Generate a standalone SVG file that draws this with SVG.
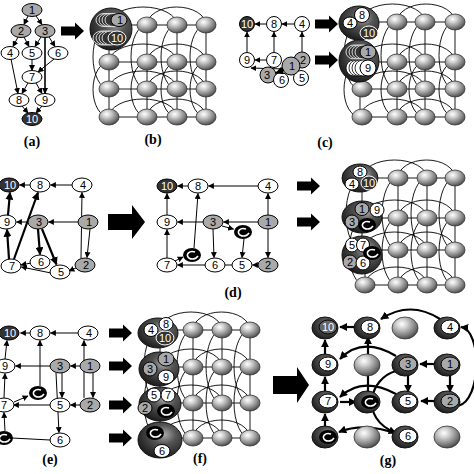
<svg xmlns="http://www.w3.org/2000/svg" width="474" height="474" viewBox="0 0 474 474">
<defs>
<radialGradient id="sg" cx="0.38" cy="0.32" r="0.72"><stop offset="0" stop-color="#fff"/><stop offset="0.3" stop-color="#cfcfcf"/><stop offset="0.75" stop-color="#7a7a7a"/><stop offset="1" stop-color="#444"/></radialGradient>
<radialGradient id="dg" cx="0.6" cy="0.35" r="0.75"><stop offset="0" stop-color="#aaa"/><stop offset="0.35" stop-color="#555"/><stop offset="1" stop-color="#111"/></radialGradient>
<marker id="a" viewBox="0 0 10 10" refX="9" refY="5" markerWidth="6" markerHeight="6" markerUnits="userSpaceOnUse" orient="auto"><path d="M0,0 L10,5 L0,10 z"/></marker>
<marker id="A" viewBox="0 0 10 10" refX="9" refY="5" markerWidth="8" markerHeight="8" markerUnits="userSpaceOnUse" orient="auto"><path d="M0,0 L10,5 L0,10 z"/></marker>
<g id="ph"><ellipse rx="9" ry="7" fill="#000"/><path d="M3,-3 C-3,-5 -7,0 -3,3 C0,5 4,4 6,1" fill="none" stroke="#fff" stroke-width="1.6"/></g>
<path id="ba" d="M0,-4.5 H14 V-8.5 L23,0 L14,8.5 V4.5 H0 Z" fill="#000"/>
</defs>
<style>
.w{fill:#fff;stroke:#000;stroke-width:1}
.g{fill:#a9a9a9;stroke:#000;stroke-width:1}
.d{fill:#333;stroke:#000;stroke-width:1}
.m{fill:#666;stroke:#000;stroke-width:1}
.s{fill:url(#sg);stroke:#333;stroke-width:0.8}
.big{fill:url(#dg);stroke:#111;stroke-width:1}
.k{fill:#333;stroke:#fff;stroke-width:0.8}
text{font-family:"Liberation Sans",Arial,sans-serif;font-size:11px;text-anchor:middle;fill:#000}
.tw{fill:#fff}
.lab{font-family:"Liberation Serif","Times New Roman",serif;font-size:14px;font-weight:bold}
.e{fill:none;stroke:#000;stroke-width:1;marker-end:url(#a)}
.E{fill:none;stroke:#000;stroke-width:2.2;marker-end:url(#A)}
.l{fill:none;stroke:#000;stroke-width:1}
.grid{fill:none;stroke:#000;stroke-width:0.9}
</style>
<rect width="474" height="474" fill="#fff"/>

<!-- ================= (a) ================= -->
<g id="a-edges">
<path class="e" d="M28,16 L24,24.5"/><path class="e" d="M36,16 L42,24.5"/>
<path class="e" d="M18,37 L13,46.5"/><path class="e" d="M24,37 L29,46.5"/>
<path class="e" d="M41,37 L35,46.5"/><path class="e" d="M49,37 L55,46.5"/>
<path class="e" d="M11,59 L18,93.5"/><path class="e" d="M32,59.5 L32,70.5"/>
<path class="e" d="M54,59 L38,72"/><path class="e" d="M28,83 L22,93.5"/>
<path class="e" d="M36,83 L42,93.5"/><path class="e" d="M45,37.5 L45,93.5" style="stroke-width:1.6"/>
<path class="e" d="M22,106 L28,113"/><path class="e" d="M42,106 L36,113"/>
</g>
<g id="a-n1"><ellipse class="g" cx="32" cy="10" rx="10" ry="6.5"/><text x="32" y="14">1</text></g>
<g id="a-n2"><ellipse class="g" cx="21" cy="31" rx="10" ry="6.5"/><text x="21" y="35">2</text></g>
<g id="a-n3"><ellipse class="g" cx="45" cy="31" rx="10" ry="6.5"/><text x="45" y="35">3</text></g>
<g id="a-n4"><ellipse class="w" cx="10" cy="53" rx="9" ry="6.5"/><text x="10" y="57">4</text></g>
<g id="a-n5"><ellipse class="w" cx="32" cy="53" rx="10" ry="6.5"/><text x="32" y="57">5</text></g>
<g id="a-n6"><ellipse class="w" cx="58" cy="53" rx="10" ry="6.5"/><text x="58" y="57">6</text></g>
<g id="a-n7"><ellipse class="w" cx="32" cy="77" rx="10" ry="6.5"/><text x="32" y="81">7</text></g>
<g id="a-n8"><ellipse class="w" cx="19" cy="100" rx="10" ry="6.5"/><text x="19" y="104">8</text></g>
<g id="a-n9"><ellipse class="w" cx="45" cy="100" rx="10" ry="6.5"/><text x="45" y="104">9</text></g>
<g id="a-n10"><ellipse class="d" cx="32" cy="119" rx="10" ry="6.5"/><text class="tw" x="32" y="123">10</text></g>
<text class="lab" x="32" y="146">(a)</text>
<use href="#ba" x="61" y="31"/>

<!-- ================= (b) ================= -->
<g id="b-links" class="grid">
<path d="M109,25H206 M109,62H206 M109,89H206 M109,117H206 M109,25V117 M147,25V117 M177,25V117 M206,25V117"/>
<path d="M109,25 A34,18 0 0 1 177,25 M147,25 A29.5,18 0 0 1 206,25 M109,62 A34,18 0 0 1 177,62 M147,62 A29.5,18 0 0 1 206,62 M109,89 A34,18 0 0 1 177,89 M147,89 A29.5,18 0 0 1 206,89 M109,117 A34,18 0 0 1 177,117 M147,117 A29.5,18 0 0 1 206,117"/>
<path d="M109,25 A16,32 0 0 0 109,89 M109,62 A16,27.5 0 0 0 109,117 M147,25 A16,32 0 0 0 147,89 M147,62 A16,27.5 0 0 0 147,117 M177,25 A16,32 0 0 0 177,89 M177,62 A16,27.5 0 0 0 177,117 M206,25 A16,32 0 0 0 206,89 M206,62 A16,27.5 0 0 0 206,117"/>
</g>
<g id="b-p1"><ellipse class="s" cx="147" cy="25" rx="10" ry="8"/></g>
<g id="b-p2"><ellipse class="s" cx="177" cy="25" rx="10" ry="8"/></g>
<g id="b-p3"><ellipse class="s" cx="206" cy="25" rx="10" ry="8"/></g>
<g id="b-p4"><ellipse class="s" cx="109" cy="62" rx="10" ry="8"/></g>
<g id="b-p5"><ellipse class="s" cx="147" cy="62" rx="10" ry="8"/></g>
<g id="b-p6"><ellipse class="s" cx="177" cy="62" rx="10" ry="8"/></g>
<g id="b-p7"><ellipse class="s" cx="206" cy="62" rx="10" ry="8"/></g>
<g id="b-p8"><ellipse class="s" cx="109" cy="89" rx="10" ry="8"/></g>
<g id="b-p9"><ellipse class="s" cx="147" cy="89" rx="10" ry="8"/></g>
<g id="b-p10"><ellipse class="s" cx="177" cy="89" rx="10" ry="8"/></g>
<g id="b-p11"><ellipse class="s" cx="206" cy="89" rx="10" ry="8"/></g>
<g id="b-p12"><ellipse class="s" cx="109" cy="117" rx="10" ry="8"/></g>
<g id="b-p13"><ellipse class="s" cx="147" cy="117" rx="10" ry="8"/></g>
<g id="b-p14"><ellipse class="s" cx="177" cy="117" rx="10" ry="8"/></g>
<g id="b-p15"><ellipse class="s" cx="206" cy="117" rx="10" ry="8"/></g>
<g id="b-big">
<circle class="big" cx="111" cy="29" r="21"/>
<ellipse class="k" cx="104" cy="20" rx="8" ry="6.5"/><ellipse class="k" cx="107" cy="20" rx="8" ry="6.5"/><ellipse class="k" cx="110" cy="20" rx="8" ry="6.5"/><ellipse class="k" cx="113" cy="20" rx="8" ry="6.5"/>
<ellipse class="g" cx="119" cy="20" rx="8" ry="6.5"/><text x="120" y="24">1</text>
<ellipse class="k" cx="102" cy="38" rx="9" ry="7"/><ellipse class="k" cx="105" cy="38" rx="9" ry="7"/><ellipse class="k" cx="108" cy="38" rx="9" ry="7"/><ellipse class="k" cx="111" cy="38" rx="9" ry="7"/>
<ellipse class="d" cx="117" cy="38" rx="9" ry="7" style="stroke:#fff"/><text class="tw" x="117" y="42">10</text>
</g>
<text class="lab" x="153" y="144">(b)</text>

<!-- ================= (c) ================= -->
<g id="c-edges">
<path class="e" d="M266,24 L255,24"/><path class="e" d="M294,24 L282,24"/>
<path class="e" d="M247,52 L247,32"/><path class="e" d="M274,52 L274,32"/>
<path class="e" d="M302,52 L302,32"/><path class="e" d="M266,60 L255,60"/>
<path class="e" d="M284,69 L251,68"/>
<path class="e" d="M274,78 L272.5,78"/>
</g>
<g id="c-n10"><circle class="d" cx="247" cy="24" r="7.5"/><text class="tw" x="247" y="28">10</text></g>
<g id="c-n8"><circle class="w" cx="274" cy="24" r="7.5"/><text x="274" y="28">8</text></g>
<g id="c-n4"><circle class="w" cx="302" cy="24" r="7.5"/><text x="302" y="28">4</text></g>
<g id="c-n9"><circle class="w" cx="247" cy="60" r="7.5"/><text x="247" y="64">9</text></g>
<g id="c-n7"><circle class="w" cx="274" cy="60" r="7.5"/><text x="274" y="64">7</text></g>
<g id="c-n2"><circle class="g" cx="302" cy="60" r="8"/><text x="303" y="64">2</text></g>
<g id="c-n5"><circle class="w" cx="301" cy="78" r="7.5"/><text x="302" y="82">5</text></g>
<g id="c-n1"><circle class="g" cx="291" cy="66" r="9"/><text x="292" y="70">1</text></g>
<g id="c-n3"><circle class="g" cx="268" cy="75" r="8"/><text x="267" y="79">3</text></g>
<g id="c-n6"><circle class="w" cx="281" cy="80" r="7.5"/><text x="282" y="84">6</text></g>
<path class="E" d="M284,70 L276,73"/>
<use href="#ba" x="315" y="24"/><use href="#ba" x="315" y="60"/>
<g id="c-links" class="grid">
<path d="M360,22H455 M360,62H455 M360,89H455 M360,117H455 M360,22V117 M397,22V117 M425,22V117 M455,22V117"/>
<path d="M360,22 A32.5,18 0 0 1 425,22 M397,22 A29,18 0 0 1 455,22 M360,62 A32.5,18 0 0 1 425,62 M397,62 A29,18 0 0 1 455,62 M360,89 A32.5,18 0 0 1 425,89 M397,89 A29,18 0 0 1 455,89 M360,117 A32.5,18 0 0 1 425,117 M397,117 A29,18 0 0 1 455,117"/>
<path d="M360,22 A16,33.5 0 0 0 360,89 M360,62 A16,27.5 0 0 0 360,117 M397,22 A16,33.5 0 0 0 397,89 M397,62 A16,27.5 0 0 0 397,117 M425,22 A16,33.5 0 0 0 425,89 M425,62 A16,27.5 0 0 0 425,117 M455,22 A16,33.5 0 0 0 455,89 M455,62 A16,27.5 0 0 0 455,117"/>
</g>
<g id="c-p1"><ellipse class="s" cx="397" cy="22" rx="10" ry="8"/></g>
<g id="c-p2"><ellipse class="s" cx="425" cy="22" rx="10" ry="8"/></g>
<g id="c-p3"><ellipse class="s" cx="455" cy="22" rx="10" ry="8"/></g>
<g id="c-p4"><ellipse class="s" cx="397" cy="62" rx="10" ry="8"/></g>
<g id="c-p5"><ellipse class="s" cx="425" cy="62" rx="10" ry="8"/></g>
<g id="c-p6"><ellipse class="s" cx="455" cy="62" rx="10" ry="8"/></g>
<g id="c-p7"><ellipse class="s" cx="362" cy="89" rx="10" ry="8"/></g>
<g id="c-p8"><ellipse class="s" cx="397" cy="89" rx="10" ry="8"/></g>
<g id="c-p9"><ellipse class="s" cx="425" cy="89" rx="10" ry="8"/></g>
<g id="c-p10"><ellipse class="s" cx="455" cy="89" rx="10" ry="8"/></g>
<g id="c-p11"><ellipse class="s" cx="362" cy="117" rx="10" ry="8"/></g>
<g id="c-p12"><ellipse class="s" cx="397" cy="117" rx="10" ry="8"/></g>
<g id="c-p13"><ellipse class="s" cx="425" cy="117" rx="10" ry="8"/></g>
<g id="c-p14"><ellipse class="s" cx="455" cy="117" rx="10" ry="8"/></g>
<g id="c-big1">
<ellipse class="big" cx="359" cy="23" rx="20" ry="17"/>
<ellipse class="w" cx="350" cy="23" rx="7" ry="6"/><text x="350" y="27">4</text>
<circle class="w" cx="362" cy="15" r="7.5"/><text x="362" y="19">8</text>
<ellipse class="d" cx="369" cy="33" rx="9" ry="7" style="stroke:#fff"/><text class="tw" x="369" y="37">10</text>
</g>
<g id="c-big2">
<ellipse class="big" cx="359" cy="61" rx="20" ry="21"/>
<ellipse class="k" cx="354" cy="52" rx="8" ry="7"/><ellipse class="k" cx="357" cy="52" rx="8" ry="7"/><ellipse class="k" cx="360" cy="52" rx="8" ry="7"/><ellipse class="k" cx="363" cy="52" rx="8" ry="7"/>
<ellipse class="g" cx="368" cy="52" rx="8" ry="7"/><text x="368" y="56">1</text>
<ellipse class="k" cx="354" cy="68" rx="8" ry="8" style="fill:#fff;stroke:#000"/><ellipse class="k" cx="357" cy="68" rx="8" ry="8" style="fill:#fff;stroke:#000"/><ellipse class="k" cx="360" cy="68" rx="8" ry="8" style="fill:#fff;stroke:#000"/><ellipse class="k" cx="363" cy="68" rx="8" ry="8" style="fill:#fff;stroke:#000"/>
<ellipse class="w" cx="368" cy="68" rx="8" ry="8"/><text x="368" y="72">9</text>
</g>
<text class="lab" x="325" y="147">(c)</text>

<!-- ================= (d) left ================= -->
<g id="d1-edges">
<path class="e" d="M72,185 L50.5,185"/><path class="e" d="M30,185 L19.5,185"/>
<path class="e" d="M78,222 L48.5,222"/><path class="e" d="M28,222 L16.5,222"/>
<path class="e" d="M81,258 L82,192.5"/><path class="e" d="M90,229 L87,257.5"/>
<path class="e" d="M76,268 L69,271"/>
<path class="E" d="M38,229 L40,254.5"/><path class="E" d="M42,229 L56.5,264.5"/>
<path class="e" d="M51,273 L21.5,267"/><path class="e" d="M31,263 L21,265"/>
<path class="E" d="M9,259 L7,229.5"/><path class="E" d="M8,215 L10,192.5"/>
<path class="E" d="M14,259 L38,192.5"/>
</g>
<g id="d1-n10"><ellipse class="d" cx="9" cy="185" rx="10" ry="7"/><text class="tw" x="10" y="189">10</text></g>
<g id="d1-n8"><ellipse class="w" cx="40" cy="185" rx="10" ry="7"/><text x="40" y="189">8</text></g>
<g id="d1-n4"><ellipse class="w" cx="82" cy="185" rx="10" ry="7"/><text x="83" y="189">4</text></g>
<g id="d1-n9"><ellipse class="w" cx="6" cy="222" rx="10" ry="7"/><text x="7" y="226">9</text></g>
<g id="d1-n3"><ellipse class="g" cx="38" cy="222" rx="10" ry="7"/><text x="39" y="226">3</text></g>
<g id="d1-n1"><ellipse class="g" cx="88" cy="222" rx="10" ry="7"/><text x="89" y="226">1</text></g>
<g id="d1-n7"><ellipse class="w" cx="11" cy="266" rx="10" ry="7"/><text x="12" y="270">7</text></g>
<g id="d1-n6"><ellipse class="w" cx="40" cy="262" rx="10" ry="7"/><text x="41" y="266">6</text></g>
<g id="d1-n5"><ellipse class="w" cx="60" cy="272" rx="10" ry="7"/><text x="61" y="276">5</text></g>
<g id="d1-n2"><ellipse class="g" cx="85" cy="265" rx="10" ry="7"/><text x="86" y="269">2</text></g>
<path d="M108,214 H132 V205 L145,222 L132,239 V230 H108 Z" fill="#000"/>

<!-- ================= (d) middle ================= -->
<g id="d2-edges">
<path class="e" d="M188,186 L177.5,186"/><path class="e" d="M258,186 L208.5,186"/>
<path class="e" d="M167,215 L167,193.5"/><path class="e" d="M167,258 L167,229.5"/>
<path class="e" d="M268,215 L268,193.5"/><path class="e" d="M258,222 L223.5,222"/>
<path class="e" d="M203,222 L177.5,222"/><path class="e" d="M268,229 L268,257.5"/>
<path class="e" d="M258,265 L252.5,265"/><path class="l" d="M232,265 L225,265"/>
<path class="e" d="M205,265 L177.5,265"/><path class="e" d="M213,229 L214,257.5"/>
<path class="e" d="M222,226 L233.5,229"/><path class="e" d="M244,239 L242,257.5"/>
<path class="e" d="M175,261 L183,257"/><path class="e" d="M194,248 L198,193.5"/>
</g>
<g id="d2-n10"><ellipse class="d" cx="167" cy="186" rx="10" ry="7"/><text class="tw" x="167" y="190">10</text></g>
<g id="d2-n8"><ellipse class="w" cx="198" cy="186" rx="10" ry="7"/><text x="198" y="190">8</text></g>
<g id="d2-n4"><ellipse class="w" cx="268" cy="186" rx="10" ry="7"/><text x="268" y="190">4</text></g>
<g id="d2-n9"><ellipse class="w" cx="167" cy="222" rx="10" ry="7"/><text x="167" y="226">9</text></g>
<g id="d2-n3"><ellipse class="g" cx="213" cy="222" rx="10" ry="7"/><text x="213" y="226">3</text></g>
<g id="d2-n1"><ellipse class="g" cx="268" cy="222" rx="10" ry="7"/><text x="268" y="226">1</text></g>
<g id="d2-pa"><use href="#ph" x="243" y="232"/></g>
<g id="d2-n7"><ellipse class="w" cx="167" cy="265" rx="10" ry="7"/><text x="167" y="269">7</text></g>
<g id="d2-pb"><use href="#ph" x="192" y="255"/></g>
<g id="d2-n6"><ellipse class="w" cx="215" cy="265" rx="10" ry="7"/><text x="215" y="269">6</text></g>
<g id="d2-n5"><ellipse class="w" cx="242" cy="265" rx="10" ry="7"/><text x="242" y="269">5</text></g>
<g id="d2-n2"><ellipse class="g" cx="268" cy="265" rx="10" ry="7"/><text x="268" y="269">2</text></g>
<text class="lab" x="233" y="297">(d)</text>
<use href="#ba" x="297" y="186"/><use href="#ba" x="297" y="222"/>

<!-- ================= (d) right grid ================= -->
<g id="d3-links" class="grid">
<path d="M362,178H455 M362,218H455 M362,250H455 M365,285H455 M362,178V250 M365,250V285 M398,178V285 M427,178V285 M455,178V285"/>
<path d="M362,178 A32.5,18 0 0 1 427,178 M398,178 A28.5,18 0 0 1 455,178 M362,218 A32.5,18 0 0 1 427,218 M398,218 A28.5,18 0 0 1 455,218 M362,250 A32.5,18 0 0 1 427,250 M398,250 A28.5,18 0 0 1 455,250 M365,285 A31,18 0 0 1 427,285 M398,285 A28.5,18 0 0 1 455,285"/>
<path d="M362,178 A16,36 0 0 0 362,250 M365,218 A16,33.5 0 0 0 365,285 M398,178 A16,36 0 0 0 398,250 M398,218 A16,33.5 0 0 0 398,285 M427,178 A16,36 0 0 0 427,250 M427,218 A16,33.5 0 0 0 427,285 M455,178 A16,36 0 0 0 455,250 M455,218 A16,33.5 0 0 0 455,285"/>
</g>
<g id="d3-p1"><ellipse class="s" cx="398" cy="178" rx="10" ry="8"/></g>
<g id="d3-p2"><ellipse class="s" cx="427" cy="178" rx="10" ry="8"/></g>
<g id="d3-p3"><ellipse class="s" cx="455" cy="178" rx="10" ry="8"/></g>
<g id="d3-p4"><ellipse class="s" cx="398" cy="218" rx="10" ry="8"/></g>
<g id="d3-p5"><ellipse class="s" cx="427" cy="218" rx="10" ry="8"/></g>
<g id="d3-p6"><ellipse class="s" cx="455" cy="218" rx="10" ry="8"/></g>
<g id="d3-p7"><ellipse class="s" cx="398" cy="250" rx="10" ry="8"/></g>
<g id="d3-p8"><ellipse class="s" cx="427" cy="250" rx="10" ry="8"/></g>
<g id="d3-p9"><ellipse class="s" cx="455" cy="250" rx="10" ry="8"/></g>
<g id="d3-p10"><ellipse class="s" cx="365" cy="285" rx="10" ry="8"/></g>
<g id="d3-p11"><ellipse class="s" cx="398" cy="285" rx="10" ry="8"/></g>
<g id="d3-p12"><ellipse class="s" cx="427" cy="285" rx="10" ry="8"/></g>
<g id="d3-p13"><ellipse class="s" cx="455" cy="285" rx="10" ry="8"/></g>
<g id="d3-big1">
<ellipse class="big" cx="360" cy="178" rx="18" ry="14"/>
<ellipse class="w" cx="360" cy="172" rx="7" ry="6"/><text x="360" y="176">8</text>
<ellipse class="w" cx="352" cy="184" rx="7" ry="6"/><text x="352" y="188">4</text>
<ellipse class="d" cx="369" cy="183" rx="8" ry="7" style="stroke:#fff"/><text class="tw" x="369" y="187">10</text>
</g>
<g id="d3-big2">
<ellipse class="big" cx="362" cy="217" rx="20" ry="16"/>
<ellipse class="g" cx="352" cy="222" rx="7" ry="7"/><text x="352" y="226">3</text>
<ellipse class="g" cx="362" cy="209" rx="7" ry="6.5"/><text x="362" y="213">1</text>
<ellipse class="w" cx="377" cy="210" rx="7" ry="7"/><text x="377" y="214">9</text>
<use href="#ph" x="367" y="225"/>
</g>
<g id="d3-big3">
<ellipse class="big" cx="362" cy="255" rx="20" ry="19"/>
<ellipse class="w" cx="352" cy="245" rx="6.5" ry="7"/><text x="352" y="249">5</text>
<ellipse class="w" cx="363" cy="245" rx="6.5" ry="7"/><text x="363" y="249">7</text>
<ellipse class="g" cx="350" cy="262" rx="7" ry="7"/><text x="350" y="266">2</text>
<ellipse class="w" cx="363" cy="263" rx="7" ry="7"/><text x="363" y="267">6</text>
<use href="#ph" x="372" y="253"/>
</g>

<!-- ================= (e) ================= -->
<g id="e-edges">
<path class="e" d="M78,333 L50.5,333"/><path class="e" d="M30,333 L20.5,333"/>
<path class="e" d="M5,359 L7,340.5"/><path class="e" d="M4,398 L5,373.5"/>
<path class="e" d="M5,431 L4,412.5"/><path class="l" d="M50,440 L12,438"/>
<path class="e" d="M14,402 L28,396"/><path class="e" d="M40,386 L40,340.5"/>
<path class="e" d="M80,366 L70.5,366"/><path class="e" d="M50,366 L15.5,366"/>
<path class="e" d="M84,398 L84,340.5"/><path class="e" d="M93,373 L93,397.5"/>
<path class="e" d="M80,405 L70.5,405"/><path class="e" d="M50,405 L13.5,405"/>
<path class="e" d="M62,373 L62,397.5"/><path class="e" d="M56,373 L59,432.5"/>
</g>
<g id="e-n10"><ellipse class="d" cx="9" cy="333" rx="10" ry="7"/><text class="tw" x="10" y="337">10</text></g>
<g id="e-n8"><ellipse class="w" cx="40" cy="333" rx="10" ry="7"/><text x="40" y="337">8</text></g>
<g id="e-n4"><ellipse class="w" cx="88" cy="333" rx="10" ry="7"/><text x="89" y="337">4</text></g>
<g id="e-n9"><ellipse class="w" cx="5" cy="366" rx="10" ry="7"/><text x="5" y="370">9</text></g>
<g id="e-n3"><ellipse class="g" cx="60" cy="366" rx="10" ry="7"/><text x="60" y="370">3</text></g>
<g id="e-n1"><ellipse class="g" cx="90" cy="366" rx="10" ry="7"/><text x="90" y="370">1</text></g>
<g id="e-pa"><use href="#ph" x="38" y="393"/></g>
<g id="e-n7"><ellipse class="w" cx="4" cy="405" rx="10" ry="7"/><text x="4" y="409">7</text></g>
<g id="e-n5"><ellipse class="w" cx="60" cy="405" rx="10" ry="7"/><text x="60" y="409">5</text></g>
<g id="e-n2"><ellipse class="g" cx="90" cy="405" rx="10" ry="7"/><text x="90" y="409">2</text></g>
<g id="e-pb"><use href="#ph" x="4" y="438"/></g>
<g id="e-n6"><ellipse class="w" cx="60" cy="440" rx="10" ry="7"/><text x="60" y="444">6</text></g>
<text class="lab" x="50" y="464">(e)</text>
<use href="#ba" x="109" y="333"/><use href="#ba" x="109" y="366"/><use href="#ba" x="109" y="405"/><use href="#ba" x="109" y="438"/>

<!-- ================= (f) ================= -->
<g id="f-links" class="grid">
<path d="M160,330H250 M160,367H250 M160,403H250 M160,438H250 M160,330V438 M193,330V438 M222,330V438 M250,330V438"/>
<path d="M160,330 A31,18 0 0 1 222,330 M193,330 A28.5,18 0 0 1 250,330 M160,367 A31,18 0 0 1 222,367 M193,367 A28.5,18 0 0 1 250,367 M160,403 A31,18 0 0 1 222,403 M193,403 A28.5,18 0 0 1 250,403 M160,438 A31,18 0 0 1 222,438 M193,438 A28.5,18 0 0 1 250,438"/>
<path d="M160,330 A16,36.5 0 0 0 160,403 M160,367 A16,35.5 0 0 0 160,438 M193,330 A16,36.5 0 0 0 193,403 M193,367 A16,35.5 0 0 0 193,438 M222,330 A16,36.5 0 0 0 222,403 M222,367 A16,35.5 0 0 0 222,438 M250,330 A16,36.5 0 0 0 250,403 M250,367 A16,35.5 0 0 0 250,438"/>
</g>
<g id="f-p1"><ellipse class="s" cx="193" cy="330" rx="10" ry="8"/></g>
<g id="f-p2"><ellipse class="s" cx="222" cy="330" rx="10" ry="8"/></g>
<g id="f-p3"><ellipse class="s" cx="250" cy="330" rx="10" ry="8"/></g>
<g id="f-p4"><ellipse class="s" cx="193" cy="367" rx="10" ry="8"/></g>
<g id="f-p5"><ellipse class="s" cx="222" cy="367" rx="10" ry="8"/></g>
<g id="f-p6"><ellipse class="s" cx="250" cy="367" rx="10" ry="8"/></g>
<g id="f-p7"><ellipse class="s" cx="193" cy="403" rx="10" ry="8"/></g>
<g id="f-p8"><ellipse class="s" cx="222" cy="403" rx="10" ry="8"/></g>
<g id="f-p9"><ellipse class="s" cx="250" cy="403" rx="10" ry="8"/></g>
<g id="f-p10"><ellipse class="s" cx="193" cy="438" rx="10" ry="8"/></g>
<g id="f-p11"><ellipse class="s" cx="222" cy="438" rx="10" ry="8"/></g>
<g id="f-p12"><ellipse class="s" cx="250" cy="438" rx="10" ry="8"/></g>
<g id="f-big1">
<ellipse class="big" cx="158" cy="333" rx="20" ry="15"/>
<ellipse class="w" cx="151" cy="330" rx="7" ry="6.5"/><text x="151" y="334">4</text>
<ellipse class="w" cx="166" cy="324" rx="7" ry="6.5"/><text x="166" y="328">8</text>
<ellipse class="d" cx="165" cy="338" rx="9" ry="7" style="stroke:#fff"/><text class="tw" x="165" y="342">10</text>
</g>
<g id="f-big2">
<ellipse class="big" cx="159" cy="369" rx="20" ry="17"/>
<ellipse class="g" cx="150" cy="369" rx="7" ry="7"/><text x="150" y="373">3</text>
<ellipse class="g" cx="166" cy="359" rx="8" ry="7"/><text x="166" y="363">1</text>
<ellipse class="w" cx="166" cy="377" rx="8" ry="7"/><text x="166" y="381">9</text>
</g>
<g id="f-big3">
<ellipse class="big" cx="160" cy="404" rx="21" ry="17"/>
<ellipse class="w" cx="154" cy="395" rx="7" ry="7"/><text x="154" y="399">5</text>
<ellipse class="w" cx="168" cy="395" rx="7" ry="7"/><text x="168" y="399">7</text>
<ellipse class="g" cx="145" cy="408" rx="7" ry="6.5"/><text x="145" y="412">2</text>
<use href="#ph" x="166" y="411"/>
</g>
<g id="f-big4">
<ellipse class="big" cx="160" cy="440" rx="22" ry="18"/>
<use href="#ph" x="155" y="433"/>
<ellipse class="w" cx="162" cy="451" rx="8" ry="6.5"/><text x="162" y="455">6</text>
</g>
<text class="lab" x="200" y="463">(f)</text>
<path d="M273,376 H297 V367 L309,385 L297,403 V394 H273 Z" fill="#000"/>

<!-- ================= (g) ================= -->
<g id="g-edges">
<path class="E" d="M358,327 L340,327"/>
<path class="E" d="M440,319 Q410,300 381,319"/>
<path class="E" d="M458,406 C482,400 482,330 461,327"/>
<path class="E" d="M440,364 L420,364"/>
<path class="E" d="M450,372 L450,392"/>
<path class="E" d="M408,372 L408,392"/>
<path class="E" d="M440,401 L421,401"/>
<path class="E" d="M396,356 Q362,336 340,359"/>
<path class="E" d="M396,394 Q362,376 340,397"/>
<path class="E" d="M325,391 L325,377"/>
<path class="E" d="M325,354 L325,340"/>
<path class="E" d="M340,402 L356,402"/>
<path class="E" d="M368,396 L368,337"/>
<path class="E" d="M396,371 C370,378 358,418 396,433"/>
<path class="E" d="M397,434 Q365,422 339,432"/>
<path class="E" d="M325,428 L325,414"/>
</g>
<g id="g-10"><ellipse class="big" cx="325" cy="328" rx="13" ry="11"/><ellipse class="m" cx="328" cy="327" rx="9" ry="7"/><text class="tw" x="328" y="331">10</text></g>
<g id="g-8"><ellipse class="big" cx="367" cy="328" rx="13" ry="11"/><ellipse class="w" cx="370" cy="327" rx="9" ry="7"/><text x="370" y="331">8</text></g>
<g id="g-e1"><ellipse class="s" cx="405" cy="328" rx="13" ry="11"/></g>
<g id="g-4"><ellipse class="big" cx="447" cy="328" rx="13" ry="11"/><ellipse class="w" cx="450" cy="327" rx="9" ry="7"/><text x="450" y="331">4</text></g>
<g id="g-9"><ellipse class="big" cx="325" cy="365" rx="13" ry="11"/><ellipse class="w" cx="328" cy="364" rx="9" ry="7"/><text x="328" y="368">9</text></g>
<g id="g-e2"><ellipse class="s" cx="367" cy="365" rx="13" ry="11"/></g>
<g id="g-3"><ellipse class="big" cx="405" cy="365" rx="13" ry="11"/><ellipse class="g" cx="408" cy="364" rx="9" ry="7"/><text x="408" y="368">3</text></g>
<g id="g-1"><ellipse class="big" cx="447" cy="365" rx="13" ry="11"/><ellipse class="g" cx="450" cy="364" rx="9" ry="7"/><text x="450" y="368">1</text></g>
<g id="g-7"><ellipse class="big" cx="325" cy="402" rx="13" ry="11"/><ellipse class="w" cx="328" cy="401" rx="9" ry="7"/><text x="328" y="405">7</text></g>
<g id="g-pa"><ellipse class="big" cx="367" cy="402" rx="13" ry="11"/><use href="#ph" x="370" y="402"/></g>
<g id="g-5"><ellipse class="big" cx="405" cy="402" rx="13" ry="11"/><ellipse class="w" cx="408" cy="401" rx="9" ry="7"/><text x="408" y="405">5</text></g>
<g id="g-2"><ellipse class="big" cx="447" cy="402" rx="13" ry="11"/><ellipse class="g" cx="450" cy="401" rx="9" ry="7"/><text x="450" y="405">2</text></g>
<g id="g-pb"><ellipse class="big" cx="325" cy="437" rx="13" ry="11"/><use href="#ph" x="328" y="437"/></g>
<g id="g-e3"><ellipse class="s" cx="367" cy="437" rx="13" ry="11"/></g>
<g id="g-6"><ellipse class="big" cx="405" cy="437" rx="13" ry="11"/><ellipse class="w" cx="408" cy="436" rx="9" ry="7"/><text x="408" y="440">6</text></g>
<g id="g-e4"><ellipse class="s" cx="447" cy="437" rx="13" ry="11"/></g>
<text class="lab" x="388" y="465">(g)</text>
</svg>
